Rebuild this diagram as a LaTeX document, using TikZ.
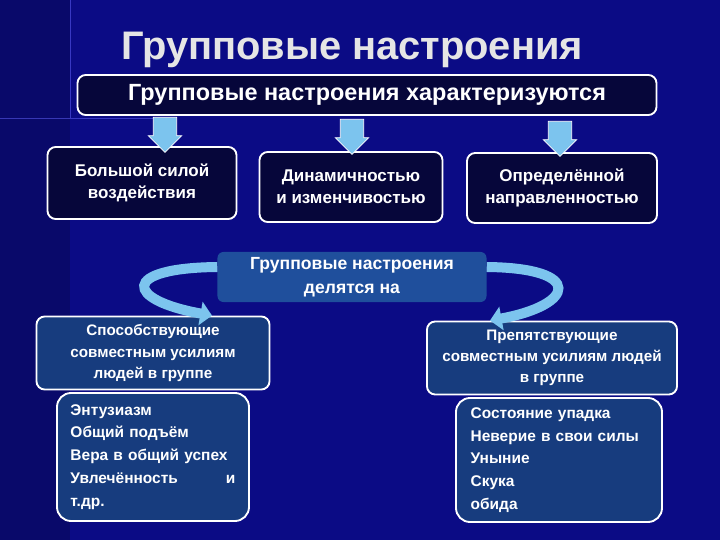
\documentclass[tikz,border=0pt]{standalone}
\usepackage{fontspec}
\setmainfont{Liberation Sans}
\usetikzlibrary{shapes.arrows,arrows.meta}
\definecolor{bgblue}{HTML}{0B0B85}
\definecolor{boxnavy}{HTML}{06063A}
\definecolor{midblue}{HTML}{1F4F9C}
\definecolor{catblue}{HTML}{173C7E}
\definecolor{arrowblue}{HTML}{7CC4EE}
\tikzset{
  navybox/.style={draw=white, line width=1.6pt, rounded corners=7pt, fill=boxnavy,
    text=white, font=\bfseries\fontsize{14.5}{19}\selectfont, align=center},
  catbox/.style={navybox, fill=catblue, font=\bfseries\fontsize{13}{18}\selectfont},
  listbox/.style={navybox, fill=catblue, align=left, rounded corners=12pt,
    font=\bfseries\fontsize{13.2}{19.5}\selectfont},
  downarrow/.style={single arrow, draw=white, line width=0.6pt, fill=arrowblue,
    rotate=-90, minimum height=1.05cm, minimum width=1cm,
    single arrow head extend=0.12cm, inner sep=0.27cm},
  swirl/.style={arrowblue, line width=3mm, -{Triangle[width=7mm,length=3.5mm]}}
}
\begin{document}
\begin{tikzpicture}[x=0.03cm, y=-0.03cm]
    \useasboundingbox (0,0) rectangle (720,540);
    \fill[bgblue] (0,0) rectangle (720,540);
    \fill[boxnavy, opacity=0.35] (0,0) rectangle (70,540);% darker left strip
    \draw[blue!60!white, opacity=0.5] (70,0) -- (70,118);
    \draw[blue!60!white, opacity=0.5] (0,118) -- (160,118);

    \node[text=white!80!gray, font=\bfseries\fontsize{34}{38}\selectfont] (title) at (352,50) {Групповые настроения};

    \node[navybox, font=\bfseries\fontsize{20}{22}\selectfont,
      minimum width=17.37cm, minimum height=1.2cm] (char) at (367,95) {Групповые настроения характеризуются};

    \node[navybox, minimum width=5.67cm, minimum height=2.16cm] (force) at (142,183) {Большой силой\\воздействия};
    \node[navybox, minimum width=5.49cm, minimum height=2.1cm] (dyn) at (351,187) {Динамичностью\\и изменчивостью};
    \node[navybox, minimum width=5.7cm, minimum height=2.1cm] (dir) at (562,188) {Определённой\\направленностью};

    \node[downarrow] (a1) at (165,129) {};
    \node[downarrow] (a2) at (352,131) {};
    \node[downarrow] (a3) at (560,133) {};

    \node[fill=midblue, rounded corners=5pt, text=white, align=center,
      font=\bfseries\fontsize{15}{20}\selectfont,
      minimum width=8.07cm, minimum height=1.5cm] (split) at (352,277) {Групповые настроения\\делятся на};

    \node[catbox, minimum width=6.99cm, minimum height=2.19cm] (pro) at (153,353) {Способствующие\\совместным усилиям\\людей в группе};
    \node[catbox, minimum width=7.5cm, minimum height=2.19cm] (con) at (552,358) {Препятствующие\\совместным усилиям людей\\в группе};

    \node[listbox, minimum width=5.76cm, minimum height=3.84cm, text width=4.95cm] (prolist) at (153,457)
      {Энтузиазм\\Общий подъём\\Вера в общий успех\\Увлечённость\hfill и\\т.др.\\[6pt]};
    \node[listbox, minimum width=6.18cm, minimum height=3.72cm, text width=5.3cm] (conlist) at (559,460)
      {Состояние упадка\\Неверие в свои силы\\Уныние\\Скука\\обида};

    \draw[swirl] (split.west) ++(0,-10) .. controls (120,268) and (125,300) .. (pro.north -| 212,0);
    \draw[swirl] (split.east) ++(0,-10) .. controls (585,268) and (575,305) .. (con.north -| 490,0);
\end{tikzpicture}
\end{document}
